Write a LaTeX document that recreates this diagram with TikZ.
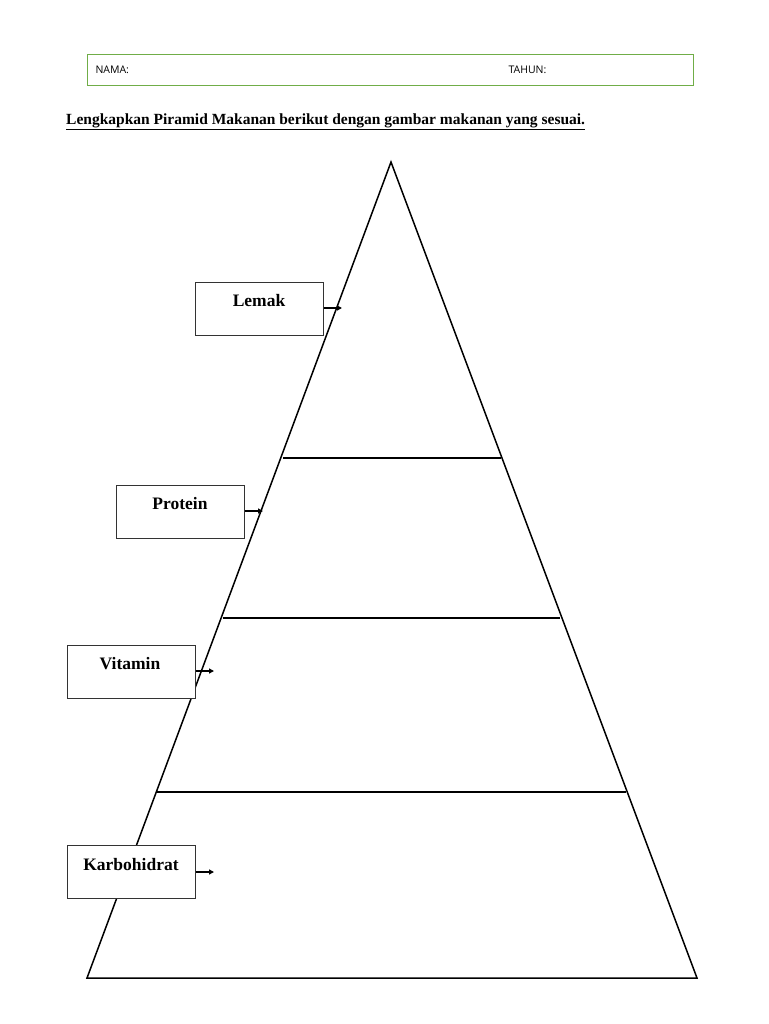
\documentclass[tikz,border=0pt]{standalone}
\usepackage{fontspec}
\setmainfont{Liberation Serif}
\newfontfamily\hdr{Open Sans}
\usetikzlibrary{arrows.meta}
\definecolor{hgreen}{RGB}{112,173,71}
\begin{document}
\begin{tikzpicture}[x=1pt,y=-1pt,
  lbl/.style={draw=black!80,fill=white,line width=0.9pt,minimum width=128pt,minimum height=53pt,inner sep=0pt,anchor=north west},
  ltxt/.style={font=\bfseries\fontsize{17.5}{19}\selectfont},
  arr/.style={line width=1.4pt,-{Triangle[length=5pt,width=5pt]}},
  pyr/.style={line width=1.5pt}]
\useasboundingbox (0,0) rectangle (768,1024);
\node[draw=hgreen,line width=0.8pt,minimum width=606pt,minimum height=31pt,anchor=north west] (hb) at (87,54) {};
\node[font=\hdr\fontsize{10.5}{12}\selectfont,anchor=west] (nama) at (92,70) {NAMA:};
\node[font=\hdr\fontsize{10.5}{12}\selectfont,anchor=west] (tahun) at (505,70) {TAHUN:};
\node[font=\bfseries\fontsize{15.5}{18}\selectfont,anchor=west,inner sep=0pt] (title) at (66,122) {\underline{Lengkapkan Piramid Makanan berikut dengan gambar makanan yang sesuai.}};
\coordinate (A) at (391,162);
\coordinate (BL) at (87,978);
\coordinate (BR) at (697,978);
\draw[pyr] (A) -- (BL) -- (BR) -- cycle;
\coordinate (l1a) at (283,458); \coordinate (l1b) at (501,458);
\coordinate (l2a) at (223,618); \coordinate (l2b) at (560,618);
\coordinate (l3a) at (157,792); \coordinate (l3b) at (626,792);
\draw[pyr] (l1a) -- (l1b);
\draw[pyr] (l2a) -- (l2b);
\draw[pyr] (l3a) -- (l3b);
\node[lbl] (lemak) at (195,282) {}; \node[ltxt] (tl) at (259,301) {Lemak};
\node[lbl] (protein) at (116,485) {}; \node[ltxt] (tp) at (180,504) {Protein};
\node[lbl] (vitamin) at (67,645) {}; \node[ltxt] (tv) at (130,664) {Vitamin};
\node[lbl] (karbo) at (67,845) {}; \node[ltxt] (tk) at (131,865) {Karbohidrat};
\coordinate (e1) at (342,308); \coordinate (e2) at (263,511);
\coordinate (e3) at (214,671); \coordinate (e4) at (214,872);
\draw[arr] (lemak.east |- e1) -- (e1);
\draw[arr] (protein.east |- e2) -- (e2);
\draw[arr] (vitamin.east |- e3) -- (e3);
\draw[arr] (karbo.east |- e4) -- (e4);
\end{tikzpicture}
\end{document}
